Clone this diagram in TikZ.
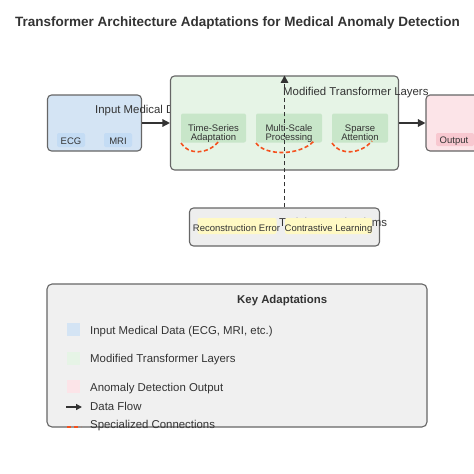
\documentclass[tikz,border=0pt]{standalone}
\usepackage{fontspec}
\setmainfont{Liberation Sans}
\usetikzlibrary{arrows.meta}
\definecolor{bdr}{HTML}{666666}
\definecolor{txt}{HTML}{333333}
\definecolor{arr}{HTML}{333333}
\definecolor{spc}{HTML}{F4511E}
\definecolor{inblue}{HTML}{D4E4F4}
\definecolor{chipblue}{HTML}{C4DCF4}
\definecolor{ingreen}{HTML}{E6F4E6}
\definecolor{chipgreen}{HTML}{C8E6C9}
\definecolor{inpink}{HTML}{FCE4E8}
\definecolor{chippink}{HTML}{F8C8D0}
\definecolor{chipyellow}{HTML}{FFF9C4}
\definecolor{ingray}{HTML}{EEEEEE}
\definecolor{leggray}{HTML}{F0F0F0}
\newcommand{\fsA}{\fontsize{11.4}{13}\selectfont}
\newcommand{\fsB}{\fontsize{9.5}{9}\selectfont}
\newcommand{\fsT}{\fontsize{13.5}{15}\selectfont\bfseries}
\tikzset{
  box/.style={draw=bdr, line width=1.1pt, rounded corners=4pt, inner sep=0pt},
  chip/.style={rounded corners=2pt, inner sep=0pt},
  lbl/.style={anchor=base west, inner sep=0pt, text=txt, font=\fsA},
  small/.style={anchor=base, inner sep=0pt, text=txt, font=\fsB},
  flow/.style={draw=arr, line width=1.4pt, -{Triangle[length=7.5pt,width=7.5pt]}},
  spec/.style={draw=spc, line width=1.6pt, dash pattern=on 4pt off 2.5pt},
  swatch/.style={inner sep=0pt, minimum width=13, minimum height=13},
}
\begin{document}
\begin{tikzpicture}[x=1pt,y=-1pt]
\useasboundingbox (0,0) rectangle (474,474);
% title
\node[inner sep=0pt, text=txt, font=\fsT] (title) at (237.5,23) {Transformer Architecture Adaptations for Medical Anomaly Detection};
% input box
\node[box, fill=inblue, minimum width=94, minimum height=56] (input) at (94.5,123) {};
\node[lbl] (inlbl) at (95,113) {Input Medical Data};
\node[chip, fill=chipblue, minimum width=28, minimum height=14] (ecg) at (71,140) {};
\node[small] (ecgt) at (71,144) {ECG};
\node[chip, fill=chipblue, minimum width=28, minimum height=14] (mri) at (118,140) {};
\node[small] (mrit) at (118,144) {MRI};
% transformer box
\node[box, fill=ingreen, minimum width=228, minimum height=94] (mod) at (284.5,123) {};
\node[lbl] (modlbl) at (283,95) {Modified Transformer Layers};
\node[chip, fill=chipgreen, minimum width=65, minimum height=29] (ts) at (213.5,128) {};
\node[small] (ts1) at (213.5,131.5) {Time-Series};
\node[small] (ts2) at (213.5,140.5) {Adaptation};
\node[chip, fill=chipgreen, minimum width=66, minimum height=29] (ms) at (289,128) {};
\node[small] (ms1) at (289,131.5) {Multi-Scale};
\node[small] (ms2) at (289,140.5) {Processing};
\node[chip, fill=chipgreen, minimum width=56, minimum height=29] (sa) at (360,128) {};
\node[small] (sa1) at (360,131.5) {Sparse};
\node[small] (sa2) at (360,140.5) {Attention};
\draw[spec] (181,143) .. controls (188,155) and (208,155) .. (219,141);
\draw[spec] (256,143) .. controls (265,156) and (300,156) .. (314,141);
\draw[spec] (332,143) .. controls (339,155) and (360,155) .. (372,141);
% output box
\node[box, fill=inpink, minimum width=95, minimum height=56] (out) at (473.5,123) {};
\node[chip, fill=chippink, minimum width=38, minimum height=13] (outc) at (455,139.5) {};
\node[small] (outt) at (454,143.5) {Output};
% training box
\node[box, fill=ingray, minimum width=190, minimum height=38] (train) at (284.5,227) {};
\node[lbl] (trlbl) at (279,226) {Training Mechanisms};
\node[chip, fill=chipyellow, minimum width=79, minimum height=16] (rec) at (237,226) {};
\node[small] (rect) at (236.5,231.5) {Reconstruction Error};
\node[chip, fill=chipyellow, minimum width=87, minimum height=16] (con) at (328.5,226) {};
\node[small] (cont) at (328.5,231.5) {Contrastive Learning};
% connectors
\draw[flow] (input.east) -- (mod.west);
\draw[flow] (mod.east) -- (out.west);
\draw[flow, dash pattern=on 4pt off 3pt] (train.north) -- (mod.north);
% legend
\node[box, fill=leggray, rounded corners=5pt, minimum width=380, minimum height=143] (legend) at (237,355.5) {};
\node[lbl, font=\fsA\bfseries] (legt) at (237,303) {Key Adaptations};
\node[swatch, fill=inblue] (sw1) at (73.5,329.5) {};
\node[lbl] (l1) at (90,334) {Input Medical Data (ECG, MRI, etc.)};
\node[swatch, fill=ingreen] (sw2) at (73.5,358) {};
\node[lbl] (l2) at (90,362) {Modified Transformer Layers};
\node[swatch, fill=inpink] (sw3) at (73.5,386) {};
\node[lbl] (l3) at (90,391) {Anomaly Detection Output};
\coordinate (fa) at (66,407);
\coordinate (fb) at (82,407);
\draw[draw=arr, line width=1.3pt, -{Triangle[length=6pt,width=6pt]}] (fa) -- (fb);
\node[lbl] (l4) at (90,410) {Data Flow};
\coordinate (sa0) at (67,427);
\coordinate (sb0) at (81,427);
\draw[spec, dash pattern=on 4pt off 3pt] (sa0) -- (sb0);
\node[lbl] (l5) at (90,428) {Specialized Connections};
\end{tikzpicture}
\end{document}
